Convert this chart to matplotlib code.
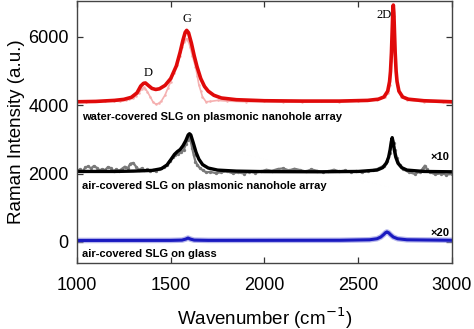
import matplotlib.pyplot as plt

plt.rcParams['font.family'] = ['Liberation Sans', 'DejaVu Sans']

# fitted spectra (wavenumber, intensity)
water_x = [1000, 1100, 1200, 1250, 1290, 1320, 1340, 1355, 1365, 1380, 1400, 1420,
           1440, 1470, 1500, 1530, 1550, 1565, 1577, 1585, 1595, 1610, 1625, 1640,
           1660, 1680, 1700, 1730, 1770, 1850, 2000, 2200, 2400, 2550, 2607, 2637,
           2657, 2667, 2672, 2677, 2681, 2684, 2687, 2690, 2693, 2697, 2702, 2707,
           2717, 2737, 2767, 2850, 3000]
water_y = [4100, 4110, 4140, 4170, 4230, 4360, 4560, 4640, 4650, 4580, 4490, 4460,
           4480, 4580, 4780, 5150, 5550, 5900, 6130, 6190, 6120, 5820, 5450, 5130,
           4780, 4550, 4410, 4290, 4210, 4160, 4130, 4120, 4120, 4140, 4175, 4240,
           4410, 4690, 4990, 5530, 6190, 6700, 6930, 6700, 6190, 5530, 4990, 4690,
           4410, 4240, 4175, 4130, 4100]

air_x = [1000, 1200, 1300, 1400, 1450, 1480, 1500, 1520, 1535, 1550, 1565, 1580,
         1593, 1600, 1607, 1620, 1635, 1650, 1670, 1700, 1750, 1850, 2000, 2300,
         2500, 2600, 2630, 2650, 2662, 2670, 2676, 2681, 2686, 2692, 2700, 2712,
         2732, 2760, 2850, 3000]
air_y = [2060, 2060, 2070, 2090, 2140, 2250, 2400, 2560, 2640, 2700, 2810, 2960,
         3130, 3165, 3130, 2900, 2620, 2420, 2260, 2160, 2100, 2070, 2055, 2050,
         2060, 2100, 2170, 2300, 2480, 2700, 2920, 3050, 2920, 2700, 2480, 2300,
         2170, 2100, 2060, 2050]

glass_x = [1000, 1500, 1560, 1580, 1592, 1605, 1625, 1700, 2400, 2560, 2600, 2620,
           2635, 2645, 2653, 2662, 2672, 2687, 2710, 2760, 3000]
glass_y = [40, 42, 50, 80, 110, 80, 50, 42, 45, 60, 90, 140,
           210, 265, 290, 265, 210, 140, 90, 60, 45]

# measured points
water_raw_x = [1000, 1050, 1100, 1150, 1200, 1230, 1260, 1280, 1300, 1315, 1330,
               1345, 1355, 1365, 1375, 1390, 1405, 1420, 1435, 1450, 1470, 1485,
               1500, 1515, 1533, 1548, 1560, 1570, 1578, 1586, 1594, 1604, 1615,
               1632, 1642, 1650, 1660, 1669, 1688, 1710, 1750, 1800, 1900, 2000,
               2100, 2200, 2300, 2400, 2500, 2600, 2640, 2660, 2670, 2677, 2681,
               2685, 2688, 2692, 2697, 2703, 2712, 2730, 2760, 2850, 2950, 3000]
water_raw_y = [4080, 4100, 4120, 4130, 4120, 4110, 4140, 4180, 4200, 4280, 4360,
               4470, 4520, 4480, 4400, 4250, 4100, 4030, 4050, 4120, 4300, 4500,
               4690, 4950, 5190, 5450, 5690, 5850, 5920, 5950, 5880, 5690, 5450,
               5130, 4850, 4600, 4420, 4250, 4100, 4110, 4140, 4120, 4100, 4110,
               4090, 4100, 4110, 4100, 4120, 4160, 4230, 4350, 4600, 5300, 6000,
               6800, 6600, 6000, 5300, 4800, 4450, 4250, 4150, 4100, 4080, 4070]

air_raw_x = [1000, 1015, 1030, 1045, 1060, 1075, 1090, 1105, 1120, 1135, 1150, 1165,
             1180, 1195, 1210, 1225, 1240, 1255, 1270, 1285, 1300, 1315, 1330, 1345,
             1360, 1375, 1390, 1405, 1420, 1435, 1450, 1465, 1480, 1495, 1510, 1525,
             1540, 1555, 1570, 1580, 1590, 1598, 1606, 1614, 1622, 1632, 1642, 1655,
             1670, 1690, 1710, 1740, 1770, 1800, 1830, 1860, 1890, 1920, 1950, 1980,
             2010, 2040, 2070, 2100, 2130, 2160, 2190, 2220, 2250, 2280, 2310, 2340,
             2370, 2400, 2430, 2460, 2490, 2520, 2550, 2580, 2610, 2635, 2655, 2668,
             2676, 2682, 2688, 2696, 2706, 2720, 2740, 2770, 2800, 2830, 2845, 2855,
             2865, 2880, 2910, 2940, 2970, 3000]
air_raw_y = [2080, 2120, 2060, 2180, 2210, 2150, 2220, 2170, 2090, 2130, 2100, 2190,
             2160, 2070, 2120, 2080, 2140, 2200, 2150, 2290, 2310, 2200, 2110, 2150,
             2090, 2120, 2080, 2100, 2060, 2120, 2150, 2200, 2260, 2380, 2480, 2550,
             2570, 2620, 2700, 2850, 2990, 3050, 2960, 2750, 2550, 2350, 2250, 2160,
             2100, 2030, 2050, 2010, 2040, 2060, 2010, 2030, 2000, 2050, 2020, 2060,
             2110, 2080, 2130, 2150, 2090, 2140, 2100, 2060, 2120, 2080, 2040, 2070,
             2110, 2060, 2090, 2040, 2070, 2030, 2080, 2100, 2150, 2230, 2380, 2600,
             2850, 2980, 2900, 2680, 2450, 2260, 2120, 2040, 1990, 2050, 2150, 2230,
             2140, 2040, 1980, 2000, 1970, 1990]

peak_names = ['D', 'G', '2D']
peak_x = [1378, 1587, 2640]
peak_y = [4950, 6530, 6650]

sample_names = ['water-covered SLG on plasmonic nanohole array',
                'air-covered SLG on plasmonic nanohole array',
                'air-covered SLG on glass']
sample_y = [3660, 1640, -360]
scales = ['\u00d710', '\u00d720']
scale_y = [2480, 250]

fig = plt.figure(figsize=(4.74, 3.29), dpi=100)
ax = fig.add_axes([0.1624, 0.2006, 0.7912, 0.7964])

ax.plot(water_raw_x, water_raw_y, color='#f5b0b0', lw=1.2, marker='o', ms=1.8,
        markeredgewidth=0)
ax.plot(water_x, water_y, color='#e00a0a', lw=2.6)

ax.plot(air_raw_x, air_raw_y, color='#7a7a7a', lw=1.6, marker='o', ms=2.4,
        markeredgewidth=0)
ax.plot(air_x, air_y, color='black', lw=2.4)

ax.plot(glass_x, glass_y, color='#8a8ae0', lw=4, alpha=0.6)
ax.plot(glass_x, glass_y, color='#1a1ac0', lw=2.2)

for name, x, y in zip(peak_names, peak_x, peak_y):
    ax.text(x, y, name, family='Liberation Serif', fontsize=9, ha='center', va='center')

for name, y in zip(sample_names, sample_y):
    ax.text(1025, y, name, fontsize=8, fontweight='bold', ha='left', va='center')

for s, y in zip(scales, scale_y):
    ax.text(2985, y, s, fontsize=8, fontweight='bold', ha='right', va='center')

ax.set_xlim(1000, 3000)
ax.set_ylim(-620, 7050)
ax.set_xticks([1000, 1500, 2000, 2500, 3000])
ax.set_yticks([0, 2000, 4000, 6000])
ax.tick_params(direction='in', top=True, right=True, length=4, width=0.9,
               labelsize=13, colors='#333333', labelcolor='black')
ax.tick_params(axis='x', pad=10)
ax.tick_params(axis='y', pad=6)
for sp in ax.spines.values():
    sp.set_color('#444444')
    sp.set_linewidth(1.0)

ax.set_xlabel('Wavenumber (cm$^{-1}$)', fontsize=13.5, labelpad=8)
ax.set_ylabel('Raman Intensity (a.u.)', fontsize=13.5, labelpad=2)

fig.savefig('out.png', dpi=100)
